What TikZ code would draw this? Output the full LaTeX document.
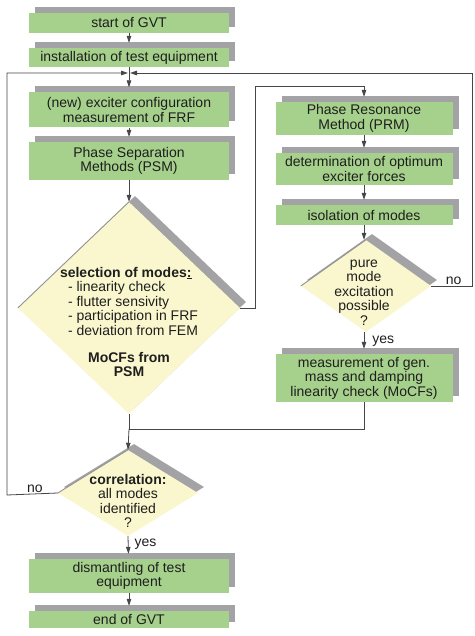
\documentclass[tikz,border=0pt]{standalone}
\usepackage{fontspec}
\setmainfont{Liberation Sans}
\usetikzlibrary{shapes.geometric,shadows,arrows.meta}
\definecolor{boxgreen}{RGB}{166,209,140}
\definecolor{diayellow}{RGB}{250,247,206}
\definecolor{shadowgray}{RGB}{163,163,166}
\definecolor{linegray}{RGB}{70,70,73}
\definecolor{inkgray}{RGB}{30,30,30}
\tikzset{
  stepbox/.style={rectangle,fill=boxgreen,inner sep=0pt,align=center,text=inkgray,
    drop shadow={shadow xshift=6pt,shadow yshift=6pt,fill=shadowgray,opacity=1}},
  leftbox/.style={stepbox,minimum width=200pt},
  rightbox/.style={stepbox,minimum width=177pt},
  decision/.style={diamond,fill=diayellow,inner sep=0pt,
    drop shadow={shadow xshift=6pt,shadow yshift=6pt,fill=shadowgray,opacity=1}},
  dtext/.style={align=center,inner sep=0pt,text=inkgray},
  rim/.style={draw=shadowgray!90!black,line width=0.9pt},
  flow/.style={draw=linegray,line width=0.8pt},
  arr/.style={flow,->,shorten >=5pt},
  arrd/.style={flow,->},
  lbl/.style={inner sep=1pt,text=inkgray}
}
\begin{document}
\begin{tikzpicture}[x=1pt,y=-1pt,>={Triangle[length=7pt,width=4.5pt]},
    every node/.style={font=\fontsize{14}{14.6}\selectfont}]
        \useasboundingbox[fill=white] (0,0) rectangle (474,636);
        % left column
        \node[leftbox,minimum height=20pt] (start) at (129,23) {start of GVT};
        \node[leftbox,minimum height=19pt] (install) at (129,57.5) {installation of test equipment};
        \coordinate (join) at (129,73);
        \node[leftbox,minimum height=35pt] (exciter) at (129,110) {(new) exciter configuration\\measurement of FRF};
        \node[leftbox,minimum height=38pt] (psm) at (129,161) {Phase Separation\\Methods (PSM)};
        \node[decision,minimum width=222pt,minimum height=212pt] (select) at (129,308) {};
        \draw[rim] (select.west) -- (select.north);
        \node[dtext] (selecttext) at (129,324) {%
          \begin{tabular}{@{}l@{}}
          \textbf{selection of modes\underline{:}}\\
          \hspace*{8pt}- linearity check\\
          \hspace*{8pt}- flutter sensivity\\
          \hspace*{8pt}- participation in FRF\\
          \hspace*{8pt}- deviation from FEM\\[12pt]
          \multicolumn{1}{@{}c@{}}{\textbf{MoCFs from}}\\
          \multicolumn{1}{@{}c@{}}{\textbf{PSM}}
          \end{tabular}};
        \coordinate (merge) at (129,429);
        \node[decision,minimum width=140pt,minimum height=86pt] (corr) at (128,493) {};
        \draw[rim] (corr.west) -- (corr.north);
        \node[dtext] (corrtext) at (128,501) {\textbf{correlation:}\\all modes\\identified\\?};
        \node[leftbox,minimum height=34pt] (dismantle) at (129,576) {dismantling of test\\equipment};
        \node[leftbox,minimum height=17pt] (finish) at (129,619.5) {end of GVT};
        % right column
        \node[rightbox,minimum height=33pt] (prm) at (364,118.5) {Phase Resonance\\Method (PRM)};
        \node[rightbox,minimum height=32pt] (forces) at (364,169) {determination of optimum\\exciter forces};
        \node[rightbox,minimum height=20pt] (isolate) at (364,215) {isolation of modes};
        \node[decision,minimum width=130pt,minimum height=92pt] (pure) at (366,286) {};
        \draw[rim] (pure.west) -- (pure.north);
        \node[dtext] (puretext) at (364,292.5) {pure\\mode\\excitation\\possible\\?};
        \node[rightbox,minimum height=48pt] (gmass) at (364,378) {measurement of gen.\\mass and damping\\linearity check (MoCFs)};
        % loop corners
        \coordinate (lbot) at (7,495);
        \coordinate (ltop) at (7,73);
        \coordinate (rbot) at (472,286);
        \coordinate (rtop) at (472,73);
        \coordinate (sright) at (255,308);
        \coordinate (sup) at (255,86);
        % connectors
        \draw[arr] (start) -- (install);
        \draw[flow] (install) -- (join);
        \draw[arr] (join) -- (exciter);
        \draw[arr] (exciter) -- (psm);
        \draw[arrd] (psm) -- (select);
        \draw[flow] (select.south) -- (merge);
        \draw[arrd] (merge) -- (corr.north);
        \draw[arr] (corr.south) -- node[lbl,right,pos=0.35,xshift=5pt] {yes} (dismantle);
        \draw[arr] (dismantle) -- (finish);
        \draw[arrd,shorten >=1pt] (corr.west) -- node[lbl,above,pos=0.45] {no} (lbot) -- (ltop) -- (join);
        \draw[arrd,shorten >=1pt] (pure.east) -- node[lbl,above,pos=0.55] {no} (rbot) -- (rtop) -- (join);
        \draw[arr] (select.east) -- (sright) -- (sup) -| (prm.north);
        \draw[arr] (prm) -- (forces);
        \draw[arr] (forces) -- (isolate);
        \draw[arrd] (isolate.south) -- (pure.north -| isolate.south);
        \draw[arr] (puretext.south |- pure.south) -- node[lbl,right,pos=0.4,xshift=7pt] {yes} (gmass);
        \draw[flow] (gmass.south) |- (merge);
\end{tikzpicture}
\end{document}
